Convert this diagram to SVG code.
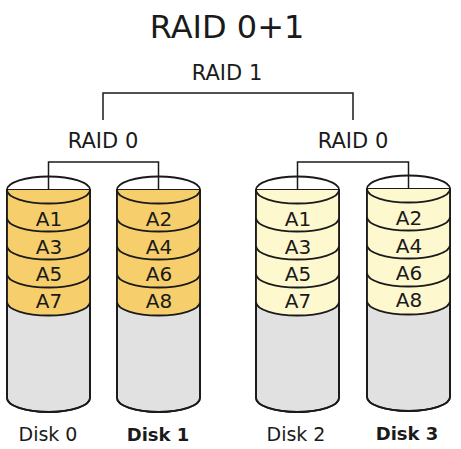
<svg xmlns="http://www.w3.org/2000/svg" width="461" height="449" viewBox="0 0 461 449">
<defs>
<style>
text{font-family:"DejaVu Sans","Noto Sans",sans-serif;fill:#1a1a1a;text-anchor:middle}
.t{font-size:32px}
.r{font-size:21px}
.a{font-size:20px}
.d{font-size:19px}
.db{font-size:18px;font-weight:bold}
.ln{fill:none;stroke:#1a1a1a;stroke-width:1.5}
.o{stroke:#1a1a1a;stroke-width:1.8;fill:none}
.body{fill:#e1e1e1;stroke:#1a1a1a;stroke-width:1.8}
.c1{fill:#f6cf6c}
.c2{fill:#fef8cf}
</style>
</defs>
<text class="t" x="227" y="38">RAID 0+1</text>
<text class="r" x="227" y="80">RAID 1</text>
<text class="r" x="103" y="148">RAID 0</text>
<text class="r" x="353" y="148">RAID 0</text>
<g id="disk0">
<path class="body" d="M7,190 V398 A41.5,14 0 0 0 90,398 V190 Z"/>
<path class="c1" d="M7,190 V302 A41.5,13.5 0 0 0 90,302 V190 Z"/>
<path class="o" d="M7,218 A41.5,13.5 0 0 0 90,218 M7,246 A41.5,13.5 0 0 0 90,246 M7,274 A41.5,13.5 0 0 0 90,274 M7,302 A41.5,13.5 0 0 0 90,302"/>
<ellipse class="o" cx="48.5" cy="190" rx="41.5" ry="13.5"/>
<path class="o" d="M7,190 V398 A41.5,14 0 0 0 90,398 V190"/>
<text class="a" x="49" y="226">A1</text>
<text class="a" x="49" y="254">A3</text>
<text class="a" x="49" y="281">A5</text>
<text class="a" x="49" y="308">A7</text>
<text class="d" x="48" y="441">Disk 0</text>
</g>
<g id="disk1">
<path class="body" d="M117,190 V398 A41.5,14 0 0 0 200,398 V190 Z"/>
<path class="c1" d="M117,190 V302 A41.5,13.5 0 0 0 200,302 V190 Z"/>
<path class="o" d="M117,218 A41.5,13.5 0 0 0 200,218 M117,246 A41.5,13.5 0 0 0 200,246 M117,274 A41.5,13.5 0 0 0 200,274 M117,302 A41.5,13.5 0 0 0 200,302"/>
<ellipse class="o" cx="158.5" cy="190" rx="41.5" ry="13.5"/>
<path class="o" d="M117,190 V398 A41.5,14 0 0 0 200,398 V190"/>
<text class="a" x="159" y="226">A2</text>
<text class="a" x="159" y="254">A4</text>
<text class="a" x="159" y="281">A6</text>
<text class="a" x="159" y="308">A8</text>
<text class="db" x="158" y="441">Disk 1</text>
</g>
<g id="disk2">
<path class="body" d="M256,190 V398 A41.5,14 0 0 0 339,398 V190 Z"/>
<path class="c2" d="M256,190 V302 A41.5,13.5 0 0 0 339,302 V190 Z"/>
<path class="o" d="M256,218 A41.5,13.5 0 0 0 339,218 M256,246 A41.5,13.5 0 0 0 339,246 M256,274 A41.5,13.5 0 0 0 339,274 M256,302 A41.5,13.5 0 0 0 339,302"/>
<ellipse class="o" cx="297.5" cy="190" rx="41.5" ry="13.5"/>
<path class="o" d="M256,190 V398 A41.5,14 0 0 0 339,398 V190"/>
<text class="a" x="298" y="226">A1</text>
<text class="a" x="298" y="254">A3</text>
<text class="a" x="298" y="281">A5</text>
<text class="a" x="298" y="308">A7</text>
<text class="d" x="296" y="441">Disk 2</text>
</g>
<g id="disk3">
<path class="body" d="M367,189 V397 A41.5,14 0 0 0 450,397 V189 Z"/>
<path class="c2" d="M367,189 V301 A41.5,13.5 0 0 0 450,301 V189 Z"/>
<path class="o" d="M367,217 A41.5,13.5 0 0 0 450,217 M367,245 A41.5,13.5 0 0 0 450,245 M367,273 A41.5,13.5 0 0 0 450,273 M367,301 A41.5,13.5 0 0 0 450,301"/>
<ellipse class="o" cx="408.5" cy="189" rx="41.5" ry="13.5"/>
<path class="o" d="M367,189 V397 A41.5,14 0 0 0 450,397 V189"/>
<text class="a" x="409" y="225">A2</text>
<text class="a" x="409" y="253">A4</text>
<text class="a" x="409" y="280">A6</text>
<text class="a" x="409" y="307">A8</text>
<text class="db" x="407" y="440">Disk 3</text>
</g>
<g id="connectors">
<path class="ln" d="M103,120 V93 H353 V120"/>
<path class="ln" d="M48.5,190 V162 H158.5 V190"/>
<path class="ln" d="M297.5,190 V162 H408.5 V189"/>
</g>
</svg>
